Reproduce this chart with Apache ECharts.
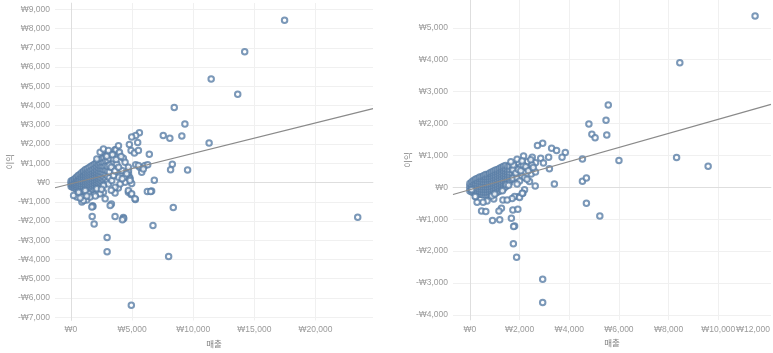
<!DOCTYPE html>
<html>
<head>
<meta charset="utf-8">
<script src="https://cdn.jsdelivr.net/npm/echarts@6/dist/echarts.min.js"></script>
<style>
  html, body { margin: 0; padding: 0; background: #fff; }
  #chart { width: 773px; height: 353px; }
</style>
</head>
<body>
<div id="chart"></div>
<script>
// tick labels
const leftXTicks = [0, 5000, 10000, 15000, 20000];
const leftYTicks = [-7000, -6000, -5000, -4000, -3000, -2000, -1000, 0, 1000, 2000, 3000, 4000, 5000, 6000, 7000, 8000, 9000];
const rightXTicks = [0, 2000, 4000, 6000, 8000, 10000, 12000];
const rightYTicks = [-4000, -3000, -2000, -1000, 0, 1000, 2000, 3000, 4000, 5000];

// left chart: dense core, one column per sales value with its profit values
const leftDense = [
  [20, [-200, -100, 0, 80]],
  [150, [-250, -150, -60, 30, 120]],
  [300, [-300, -190, -90, 0, 90, 190]],
  [450, [-330, -220, -110, -10, 100, 200, 280]],
  [600, [-380, -260, -140, -30, 80, 190, 300, 370]],
  [750, [-420, -300, -170, -50, 70, 190, 310, 430]],
  [900, [-450, -320, -200, -70, 60, 180, 300, 420, 520]],
  [1050, [-480, -340, -210, -80, 40, 170, 290, 410, 530, 600]],
  [1200, [-500, -360, -220, -90, 40, 170, 300, 420, 540, 680]],
  [1350, [-480, -340, -200, -60, 70, 200, 330, 460, 580, 720]],
  [1500, [-440, -300, -160, -30, 100, 230, 360, 490, 620, 780]],
  [1650, [-400, -260, -120, 10, 140, 270, 400, 530, 660, 850]],
  [1800, [-350, -210, -80, 50, 180, 310, 440, 570, 700, 900]],
  [1950, [-300, -160, -30, 100, 230, 360, 490, 620, 780, 960]],
  [2100, [-250, -110, 20, 150, 280, 410, 540, 680, 850, 1030]],
  [2250, [-200, -60, 80, 210, 340, 470, 600, 750, 920, 1100]],
  [2400, [-150, 0, 140, 280, 420, 560, 700, 850, 1000, 1180]],
  [2550, [-100, 60, 220, 380, 540, 700, 860, 1050, 1250]],
  [2700, [-50, 120, 300, 480, 660, 850, 1050, 1300]],
  [2850, [0, 200, 420, 640, 880, 1120, 1400]],
  [3000, [80, 320, 580, 850, 1150, 1450]],
  [3150, [250, 550, 900, 1250]]
];

// left chart: scattered points [sales, profit]
const leftSparse = [
  [17470, 8430], [14210, 6800], [11470, 5380], [13640, 4590], [11300, 2060], [23450, -1800],
  [8450, 3900], [9320, 3040], [9070, 2420], [7550, 2440], [8090, 2300], [5600, 2590],
  [5300, 2440], [4970, 2370], [4780, 1980], [5460, 2080], [4920, 1660], [5190, 1540],
  [5520, 1660], [6410, 1470], [5300, 930], [6060, 880], [6280, 930], [5620, 790],
  [5790, 540], [8290, 950], [8150, 670], [9540, 650], [3610, 1700], [3880, 1530],
  [6820, 125], [4700, 450], [4810, 260], [4970, -50], [4700, -500], [4920, -620],
  [5270, -880], [6250, -460], [6600, -440], [8370, -1300], [6710, -2230], [7990, -3840],
  [4940, -6380], [4290, -1820], [4320, -1870], [4210, -1940], [3610, -1770], [3310, -1110],
  [1770, -1210], [1800, -1250], [1740, -1770], [1900, -2160], [2960, -2860], [2960, -3600],
  [3880, -290], [3610, -540], [900, -1010], [490, -750], [1300, -910], [2660, -500],
  [2250, -580], [1440, -580], [220, -670], [630, -500], [1170, -410], [3070, -70],
  [4430, 20], [4830, 190], [4020, 360], [4700, 620],
  [3690, 1710], [3970, 1570], [3210, 1480], [2930, 1360], [3480, 1220], [4290, 1260],
  [4430, 1050], [3750, 960], [4700, 790], [4160, 620], [4560, 450], [3890, 280],
  [4830, 100], [4020, -70], [3610, -240], [4700, -410], [4970, -580], [5240, -840],
  [3210, -1190], [1570, -750], [1030, -930], [1710, -1270], [2390, -580], [2800, -840],
  [760, -800], [2120, -320], [2660, -150], [3340, 100], [3480, 360], [5520, 880],
  [5920, 700], [6520, -460], [2390, 1570], [2660, 1740], [2120, 1220], [3070, 1660],
  [3890, 1910], [3300, 800], [3600, 600], [3400, 1450], [3700, 1200], [4100, 1350],
  [2500, -350], [2000, -700], [1300, -700], [3900, 800], [4200, 200], [3300, -400]
];

// right chart: dense core columns
const rightDense = [
  [0, [-120, -40, 40, 120]],
  [80, [-150, -70, 10, 90, 170]],
  [160, [-170, -90, -10, 70, 150, 220]],
  [240, [-190, -110, -30, 50, 130, 210, 260]],
  [320, [-200, -120, -40, 40, 120, 200, 280]],
  [400, [-220, -140, -60, 20, 100, 180, 260, 320]],
  [480, [-230, -150, -70, 10, 90, 170, 250, 330]],
  [560, [-240, -160, -80, 0, 80, 160, 240, 320, 370]],
  [640, [-240, -160, -80, 0, 80, 160, 240, 320, 400]],
  [720, [-240, -160, -80, 0, 80, 160, 240, 320, 400]],
  [800, [-230, -150, -70, 10, 90, 170, 250, 330, 410, 450]],
  [880, [-220, -140, -60, 20, 100, 180, 260, 340, 420, 480]],
  [960, [-200, -120, -40, 40, 120, 200, 280, 360, 440, 510]],
  [1040, [-180, -100, -20, 60, 140, 220, 300, 380, 460, 540]],
  [1120, [-150, -70, 10, 90, 170, 250, 330, 410, 490, 560]],
  [1200, [-120, -40, 40, 120, 200, 280, 360, 440, 520, 600]],
  [1280, [-80, 0, 80, 160, 240, 320, 400, 480, 560, 630]],
  [1360, [-40, 40, 120, 200, 280, 360, 440, 520, 600, 660]],
  [1440, [20, 100, 180, 260, 340, 420, 500, 580, 680]],
  [1520, [80, 160, 240, 320, 400, 480, 560, 650]],
  [1600, [150, 230, 310, 390, 470, 560, 660]],
  [1700, [250, 350, 450, 550, 680]],
  [1800, [380, 500, 620]]
];

// right chart: scattered points [sales, profit]
const rightSparse = [
  [11480, 5370], [8450, 3900], [5570, 2580], [5480, 2100], [5510, 1640], [4790, 1980],
  [4910, 1660], [5040, 1550], [4530, 890], [6000, 840], [8320, 930], [9590, 660],
  [4530, 190], [4690, 290], [4690, -500], [5230, -900],
  [2930, 1380], [2720, 1310], [3290, 1220], [3490, 1150], [3840, 1090], [3710, 940],
  [2160, 980], [2510, 940], [2850, 910], [3170, 940], [2310, 800], [2640, 770],
  [2960, 760], [3200, 580], [1970, 760], [2050, 650], [1730, 550], [2470, 420],
  [2640, 480], [3400, 100], [2630, 40], [2400, 180], [2200, -80], [2130, -190],
  [1970, -290], [1800, -290], [1700, -350], [1310, -110], [1330, -400], [1500, -400],
  [960, -370], [690, -430], [530, -470], [290, -470], [240, -290], [1270, -660],
  [1730, -710], [1930, -690], [1170, -740], [470, -740], [640, -760], [910, -1040],
  [1200, -1020], [1670, -970], [1800, -1210], [1760, -1230], [1750, -1770], [1880, -2190],
  [2930, -2880], [2930, -3610], [2000, -320], [2110, -190], [1730, 280], [1900, 300],
  [2100, 350], [2300, 600], [2500, 700], [1900, 880], [1850, 450], [1950, 560],
  [2050, 520], [2150, 700], [2250, 640], [2350, 520], [2450, 860], [2550, 620],
  [2200, 300], [2000, 200], [1900, 100], [2300, 250], [1750, 700], [1650, 800],
  [2100, 820], [880, -270], [1000, -210], [1470, 80], [1560, 60], [70, -80], [210, -290]
];

// trend line end points, read at the plot edges
const leftTrend = [[-1300, -270], [24700, 3840]];
const rightTrend = [[-680, -225], [12120, 2600]];

const dotColor = '#5a7ea6';
const gridColor = '#f0f0f0';
const zeroColor = '#dedede';
const labelColor = '#9a9a9a';

function expand(cols) {
  const out = [];
  cols.forEach(c => c[1].forEach(p => out.push([c[0], p])));
  return out;
}

function won(v) {
  return (v < 0 ? '-' : '') + '₩' + Math.abs(v).toLocaleString('en-US');
}

const labelFont = { color: labelColor, fontSize: 8.5, fontFamily: 'Liberation Sans' };
const nameFont = { color: '#7f7f7f', fontSize: 8.5, fontFamily: 'Noto Sans CJK KR' };

function xAxisOf(idx, min, max, ticks) {
  return {
    type: 'value', gridIndex: idx, min: min, max: max,
    name: '매출', nameLocation: 'middle', nameGap: idx === 0 ? 19 : 17,
    nameTextStyle: nameFont,
    axisLine: { show: true, lineStyle: { color: '#e8e8e8' } },
    axisTick: { show: false, customValues: ticks },
    axisLabel: Object.assign({ customValues: ticks, formatter: won, margin: 5, hideOverlap: false }, labelFont),
    splitLine: { show: true, lineStyle: { color: gridColor, width: 1 } }
  };
}

// extra label-only axis so the last tick label sits inside the canvas
function edgeLabelAxis(idx, min, max, ticks) {
  return {
    type: 'value', gridIndex: idx, min: min, max: max, position: 'bottom',
    axisLine: { show: false }, splitLine: { show: false },
    axisTick: { show: false, customValues: ticks },
    axisLabel: Object.assign({ customValues: ticks, formatter: won, margin: 5, align: 'right', padding: [0, -2, 0, 0] }, labelFont)
  };
}

function yAxisOf(idx, min, max, ticks) {
  return {
    type: 'value', gridIndex: idx, min: min, max: max,
    name: '이익', nameLocation: 'middle', nameGap: idx === 0 ? 37 : 34,
    nameTextStyle: nameFont,
    axisLine: { show: true, lineStyle: { color: '#e8e8e8' } },
    axisTick: { show: false, customValues: ticks },
    axisLabel: Object.assign({ customValues: ticks, formatter: won, margin: 5 }, labelFont),
    splitLine: { show: true, lineStyle: { color: gridColor, width: 1 } }
  };
}

function scatterOf(idx, data) {
  return {
    type: 'scatter', xAxisIndex: idx, yAxisIndex: idx,
    data: data, symbol: 'emptyCircle', symbolSize: 5.5,
    itemStyle: { color: dotColor, borderColor: dotColor, borderWidth: 0.8 },
    silent: true, animation: false,
    markLine: {
      silent: true, symbol: 'none', label: { show: false },
      lineStyle: { color: zeroColor, type: 'solid', width: 1 },
      data: [{ xAxis: 0 }, { yAxis: 0 }],
      z: 1
    }
  };
}

function trendOf(idx, data) {
  return {
    type: 'line', xAxisIndex: idx, yAxisIndex: idx, data: data,
    showSymbol: false, silent: true, animation: false, z: 5,
    lineStyle: { color: '#8a8a8a', width: 1.2 }
  };
}

const chart = echarts.init(document.getElementById('chart'));
chart.setOption({
  animation: false,
  grid: [
    { left: 55, top: 3, width: 318, height: 320 },
    { left: 453, top: 0, width: 320, height: 320 }
  ],
  xAxis: [
    xAxisOf(0, -1300, 24700, leftXTicks),
    xAxisOf(1, -680, 12120, rightXTicks.slice(0, -1)),
    edgeLabelAxis(1, -680, 12120, rightXTicks.slice(-1))
  ],
  yAxis: [
    yAxisOf(0, -7170, 9330, leftYTicks),
    yAxisOf(1, -4160, 5870, rightYTicks)
  ],
  series: [
    scatterOf(0, expand(leftDense).concat(leftSparse)),
    trendOf(0, leftTrend),
    scatterOf(1, expand(rightDense).concat(rightSparse)),
    trendOf(1, rightTrend)
  ]
});
</script>
</body>
</html>
